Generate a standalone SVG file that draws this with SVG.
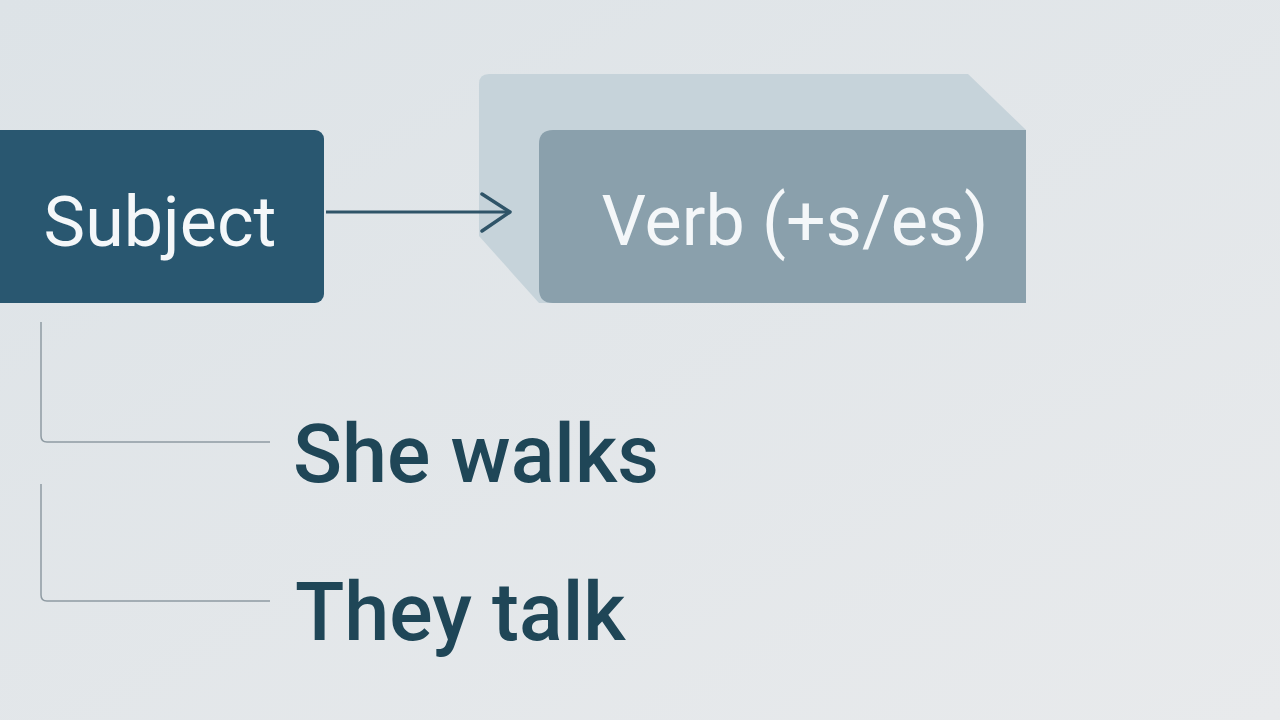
<svg xmlns="http://www.w3.org/2000/svg" width="1280" height="720" viewBox="0 0 1280 720">
  <defs>
    <linearGradient id="bg" x1="0" y1="0" x2="1" y2="1">
      <stop offset="0" stop-color="#dde3e7"/>
      <stop offset="1" stop-color="#e8eaec"/>
    </linearGradient>
  </defs>
  <style>
    .boxlabel { font-family: Roboto, "Liberation Sans", sans-serif; font-weight: 400; font-size: 70px; fill: #f4f7f9; text-anchor: middle; }
    .example { font-family: Roboto, "Liberation Sans", sans-serif; font-weight: 500; font-size: 81px; fill: #1f4657; }
    .tree { fill: none; stroke: #8e9aa2; stroke-width: 1.5; }
  </style>
  <rect width="1280" height="720" fill="url(#bg)"/>

  <g id="subject">
    <rect x="-20" y="130" width="344" height="173" rx="9" fill="#295770"/>
    <text class="boxlabel" x="160" y="246">Subject</text>
  </g>

  <g id="verb">
    <path d="M489,74 L968,74 L1026,130 L1026,303 L539,303 L479,236 L479,84 Q479,74 489,74 Z" fill="#c6d3da"/>
    <path d="M553,130 L1026,130 L1026,303 L553,303 Q539,303 539,289 L539,144 Q539,130 553,130 Z" fill="#8aa0ac"/>
    <text class="boxlabel" x="795" y="245">Verb (+s/es)</text>
  </g>

  <g id="she-walks">
    <text class="example" x="293" y="482">She walks</text>
  </g>
  <g id="they-talk">
    <text class="example" x="295" y="640">They talk</text>
  </g>

  <g id="connectors">
    <line x1="326" y1="212" x2="510" y2="212" stroke="#2f5468" stroke-width="3"/>
    <path d="M482,194 L510,212 L482,231" fill="none" stroke="#2f5468" stroke-width="3.5" stroke-linecap="round" stroke-linejoin="round"/>
    <path class="tree" d="M41,322 L41,436 Q41,442 47,442 L270,442"/>
    <path class="tree" d="M41,484 L41,595 Q41,601 47,601 L270,601"/>
  </g>
</svg>
